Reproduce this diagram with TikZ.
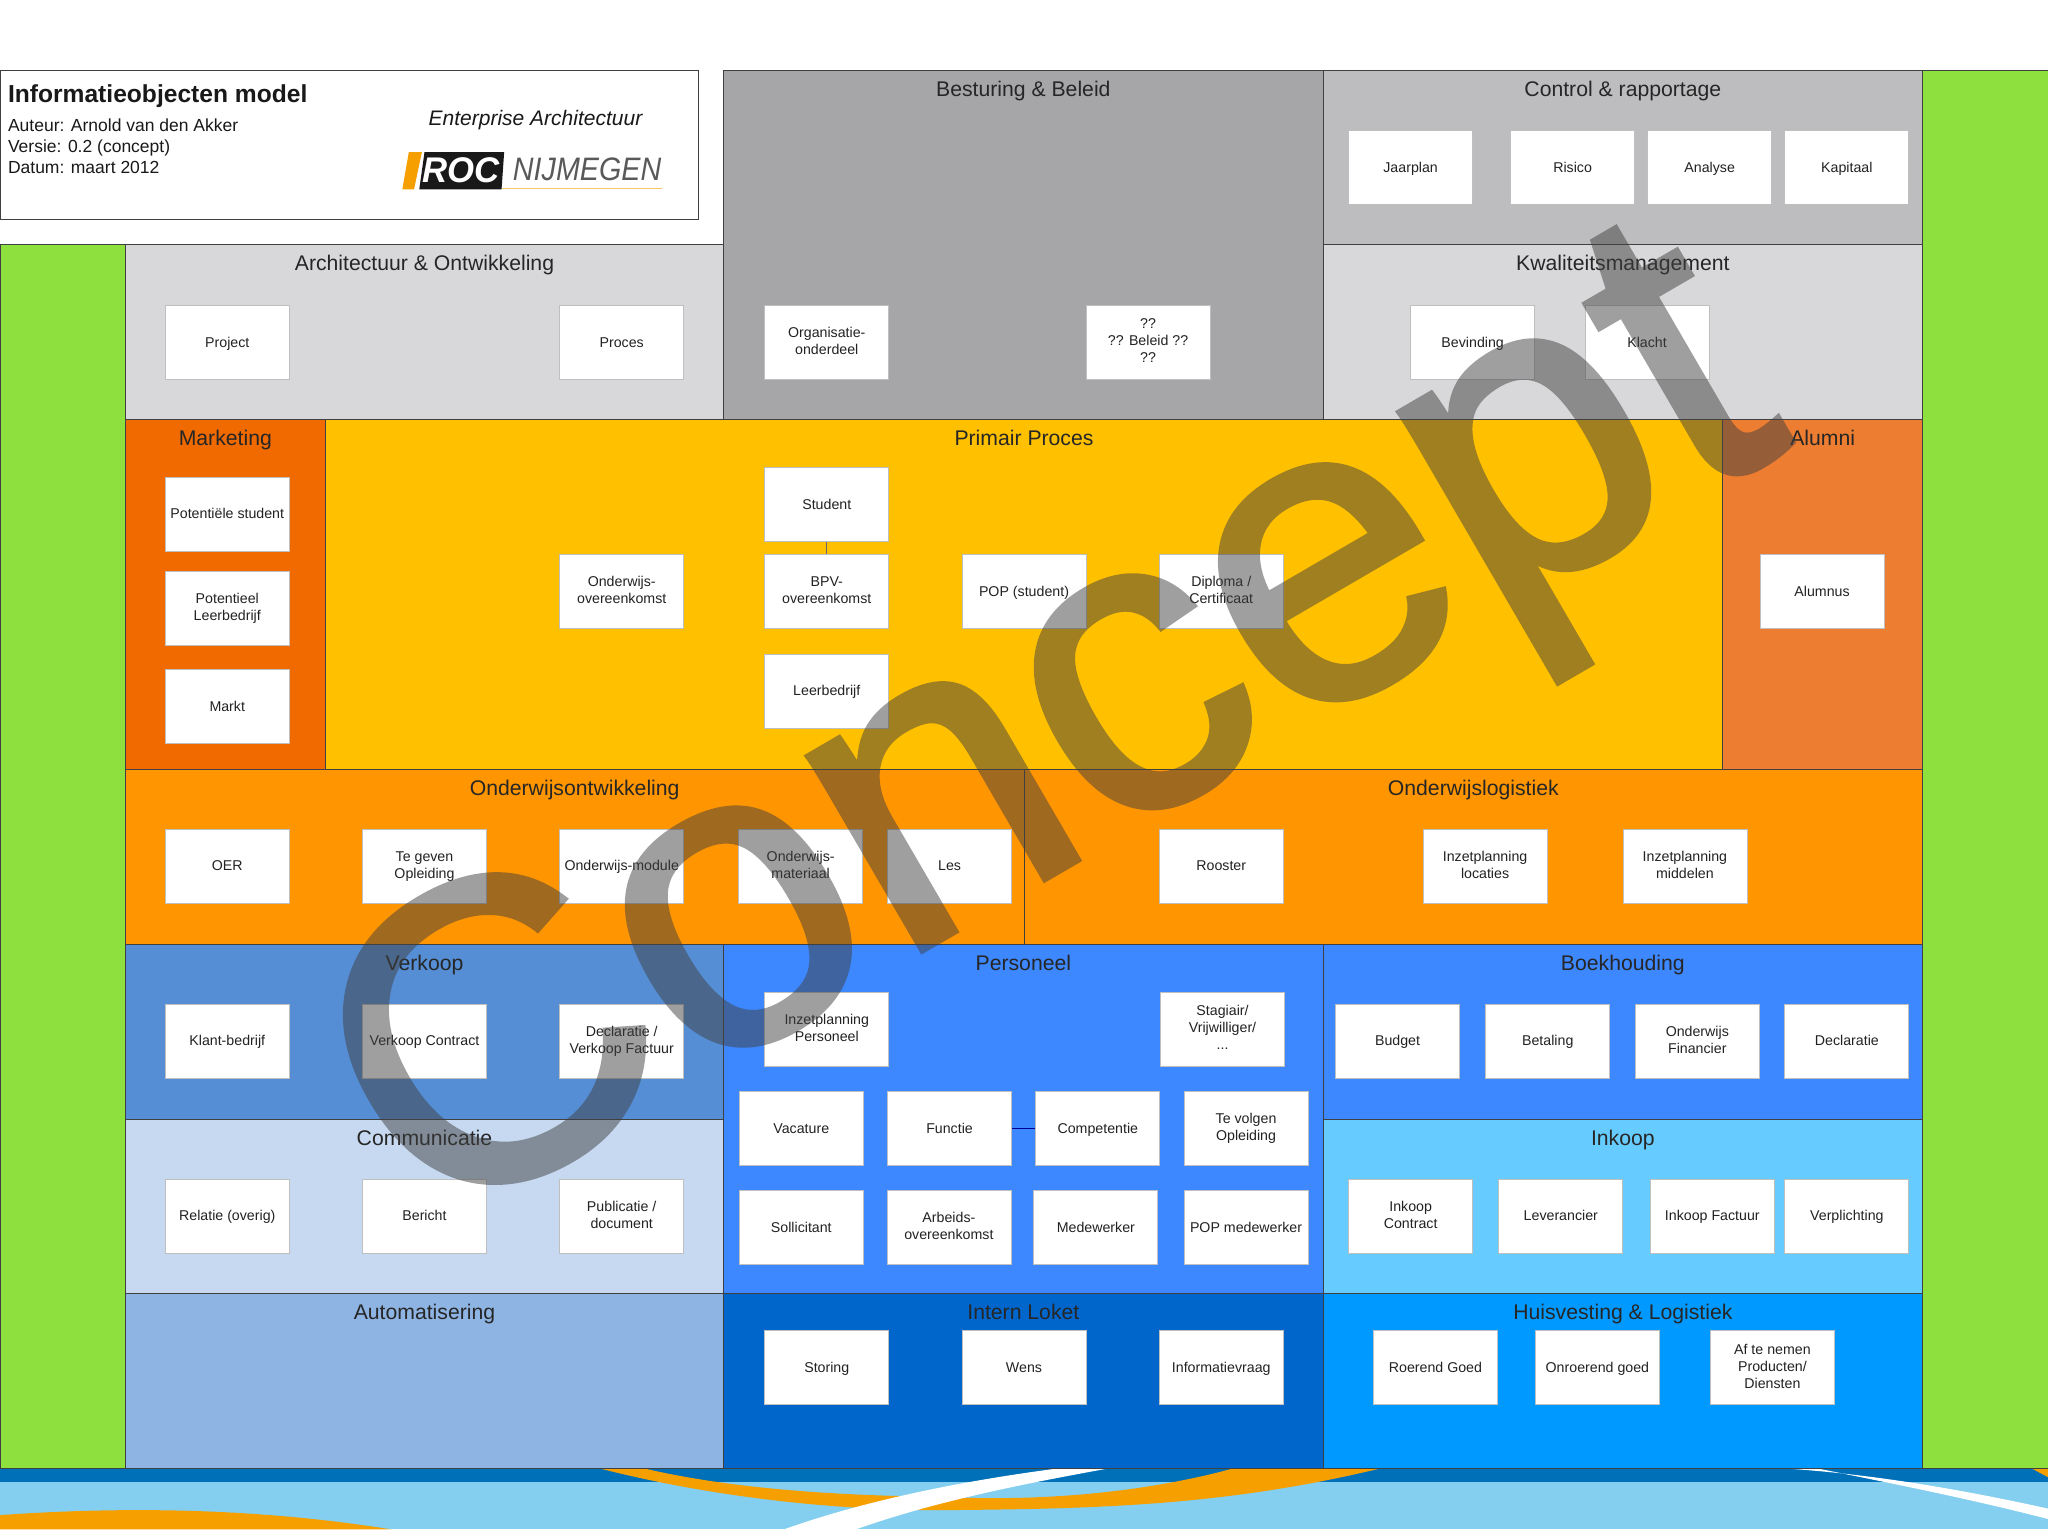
\documentclass[tikz,border=0pt]{standalone}
\usepackage{fontspec}
\setmainfont{Liberation Sans}
\newfontfamily\markfont[FakeBold=1.6]{Liberation Sans}
\definecolor{cgreen}{HTML}{8DE03E}
\definecolor{cbest}{HTML}{A6A5A8}
\definecolor{ccontrol}{HTML}{BDBDBF}
\definecolor{clight}{HTML}{D8D8DA}
\definecolor{cmark}{HTML}{F06A00}
\definecolor{cprim}{HTML}{FFC000}
\definecolor{calum}{HTML}{ED7D31}
\definecolor{conder}{HTML}{FF9500}
\definecolor{cverk}{HTML}{558ED5}
\definecolor{cpers}{HTML}{3D87FF}
\definecolor{ccomm}{HTML}{C6D9F1}
\definecolor{cink}{HTML}{66CCFF}
\definecolor{cauto}{HTML}{8EB4E3}
\definecolor{cint}{HTML}{0066CC}
\definecolor{chuis}{HTML}{0099FF}
\definecolor{cband}{HTML}{0070B8}
\definecolor{csky}{HTML}{84CFF0}
\definecolor{cswoosh}{HTML}{F5A000}
\definecolor{cink2}{HTML}{222222}
\tikzset{
  panelrect/.style={draw=black!75,line width=1pt},
  paneltitle/.style={anchor=base,font=\fontsize{21.2}{24}\selectfont,text=black!85,inner sep=0pt},
  itembox/.style={draw=black!25,line width=.8pt,fill=white,minimum width=124pt,minimum height=74pt,inner sep=1pt,align=center,text=cink2,font=\fontsize{14.2}{17}\selectfont,execute at begin node={\rule{0pt}{15pt}},execute at end node={\rule[-5.1pt]{0pt}{5.1pt}}},
  boxlabel/.style={inner sep=0pt,align=center,text=cink2,font=\fontsize{14.2}{17}\selectfont},
  link/.style={draw=black!60,line width=.8pt},
  headtext/.style={anchor=base west,inner sep=0pt,text=black!90},
}
\newcommand{\pnl}[7]{%
  \path[panelrect,fill=#6] (#2,#3) rectangle (#4,#5);
  \node[paneltitle] (#1) at ({(#2+#4)/2},{#3+20}) {#7};}
\newcommand{\bx}[4]{\node[itembox] (#1) at (#2,#3) {#4};}
\newcommand{\bxm}[4]{\node[itembox] (#1) at (#2,#3) {};\node[boxlabel,yshift=-.3pt] (#1text) at (#1.center) {\strut#4\strut};}
\begin{document}
\begin{tikzpicture}[x=1.30612pt,y=-1.30612pt]
\path[use as bounding box,fill=white] (0,0) rectangle (1568,1176);
% bottom band
\fill[csky] (0,1124) rectangle (1568,1171);
\fill[cband] (0,1124) rectangle (1568,1134.5);
\fill[cswoosh] (458,1124) .. controls (540,1145) and (640,1158) .. (740,1156) .. controls (860,1155) and (950,1150) .. (1058,1124) -- (945,1124) .. controls (880,1142) and (800,1150) .. (720,1146) .. controls (640,1145) and (560,1140) .. (492,1124) -- cycle;
\fill[white] (812,1124) -- (850,1124) .. controls (790,1135) and (720,1148) .. (655,1171) -- (600,1171) .. controls (670,1146) and (750,1132) .. (812,1124) -- cycle;
\fill[white] (1362,1124) -- (1390,1124) .. controls (1450,1136) and (1510,1148) .. (1568,1163) -- (1568,1155) .. controls (1500,1140) and (1430,1128) .. (1362,1124) -- cycle;
\fill[cswoosh] (0,1171) -- (0,1160) .. controls (100,1153) and (200,1155) .. (300,1171) -- cycle;
\fill[cswoosh] (1555,1124) -- (1568,1124) -- (1568,1131) -- cycle;
% panels
\path[panelrect,fill=cgreen] (0,187) rectangle (96,1124);
\path[panelrect,fill=cgreen] (1472,54) rectangle (1568,1124);
\pnl{besturing}{554}{54}{1013}{321}{cbest}{Besturing \& Beleid}
\pnl{control}{1013}{54}{1472}{187}{ccontrol}{Control \& rapportage}
\pnl{kwaliteit}{1013}{187}{1472}{321}{clight}{Kwaliteitsmanagement}
\pnl{architectuur}{96}{187}{554}{321}{clight}{Architectuur \& Ontwikkeling}
\pnl{marketing}{96}{321}{249}{589}{cmark}{Marketing}
\pnl{primair}{249}{321}{1319}{589}{cprim}{Primair Proces}
\pnl{alumni}{1319}{321}{1472}{589}{calum}{Alumni}
\pnl{ontw}{96}{589}{784}{723}{conder}{Onderwijsontwikkeling}
\pnl{logistiek}{784}{589}{1472}{723}{conder}{Onderwijslogistiek}
\pnl{verkoop}{96}{723}{554}{857}{cverk}{Verkoop}
\pnl{personeel}{554}{723}{1013}{990}{cpers}{Personeel}
\pnl{boekhouding}{1013}{723}{1472}{857}{cpers}{Boekhouding}
\pnl{communicatie}{96}{857}{554}{990}{ccomm}{Communicatie}
\pnl{inkoop}{1013}{857}{1472}{990}{cink}{Inkoop}
\pnl{automatisering}{96}{990}{554}{1124}{cauto}{Automatisering}
\pnl{internloket}{554}{990}{1013}{1124}{cint}{Intern Loket}
\pnl{huisvesting}{1013}{990}{1472}{1124}{chuis}{Huisvesting \& Logistiek}
% title block
\path[panelrect,fill=white] (0,54) rectangle (535,168);
\node[headtext,font=\bfseries\fontsize{24.6}{26}\selectfont] (title) at (6,78.5) {Informatieobjecten model};
\node[headtext,font=\fontsize{17.5}{20}\selectfont] (auteur) at (6,101) {Auteur: Arnold van den Akker};
\node[headtext,font=\fontsize{17.5}{20}\selectfont] (versie) at (6,117) {Versie: 0.2 (concept)};
\node[headtext,font=\fontsize{17.5}{20}\selectfont] (datum) at (6,133) {Datum: maart 2012};
\node[inner sep=0pt,font=\itshape\fontsize{21}{24}\selectfont,text=black!90] (ea) at (410,92) {Enterprise Architectuur};
% logo
\fill[cswoosh] (313,116.5) -- (323,116.5) -- (317,145) -- (308,145) -- cycle;
\fill[black!90] (325,116.5) -- (386,116.5) -- (384,145) -- (321,145) -- cycle;
\node[inner sep=0pt,font=\bfseries\itshape\fontsize{31}{31}\selectfont,text=white] (roc) at (353,130.5) {\scalebox{1.12}[1.15]{ROC}};
\node[inner sep=0pt,font=\itshape\fontsize{29}{31}\selectfont,text=black!65] (nijmegen) at (449.5,130) {\scalebox{.99}[1.12]{NIJMEGEN}};
\fill[cswoosh!60] (384,143.8) rectangle (507,145);
% boxes
\bx{jaarplan}{1080}{128}{Jaarplan}
\bx{risico}{1204}{128}{Risico}
\bx{analyse}{1309}{128}{Analyse}
\bx{kapitaal}{1414}{128}{Kapitaal}
\bx{bevinding}{1127.5}{262}{Bevinding}
\bx{klacht}{1261}{262}{Klacht}
\bxm{orgdeel}{633}{262}{Organisatie-\\onderdeel}
\bxm{beleid}{879}{262}{??\\?? Beleid ??\\??}
\bx{project}{174}{262}{Project}
\bx{proces}{476}{262}{Proces}
\bx{potstudent}{174}{393.5}{Potentiële student}
\bxm{potleer}{174}{466}{Potentieel\\Leerbedrijf}
\bx{markt}{174}{541}{Markt}
\bx{student}{633}{386}{Student}
\bxm{bpv}{633}{453}{BPV-\\overeenkomst}
\bx{leerbedrijf}{633}{529}{Leerbedrijf}
\bxm{owovk}{476}{453}{Onderwijs-\\overeenkomst}
\bx{popstudent}{784}{453}{POP (student)}
\bxm{diploma}{935}{453}{Diploma /\\Certificaat}
\bx{alumnus}{1395}{453}{Alumnus}
\bx{oer}{174}{663}{OER}
\bxm{tegeven}{325}{663}{Te geven\\Opleiding}
\bx{module}{476}{663}{Onderwijs-module}
\bxm{materiaal}{613}{663}{Onderwijs-\\materiaal}
\bx{les}{727}{663}{Les}
\bx{rooster}{935}{663}{Rooster}
\bxm{locaties}{1137}{663}{Inzetplanning\\locaties}
\bxm{middelen}{1290}{663}{Inzetplanning\\middelen}
\bx{klant}{174}{797}{Klant-bedrijf}
\bx{vcontract}{325}{797}{Verkoop Contract}
\bxm{vfactuur}{476}{797}{Declaratie /\\Verkoop Factuur}
\bxm{inzetpers}{633}{788}{Inzetplanning\\Personeel}
\bxm{stagiair}{936}{788}{Stagiair/\\Vrijwilliger/\\...}
\bx{vacature}{613.5}{864}{Vacature}
\bx{functie}{727}{864}{Functie}
\bx{competentie}{840.5}{864}{Competentie}
\bxm{tevolgen}{954}{864}{Te volgen\\Opleiding}
\bx{sollicitant}{613.5}{940}{Sollicitant}
\bxm{arbeids}{726.5}{940}{Arbeids-\\overeenkomst}
\bx{medewerker}{839}{940}{Medewerker}
\bx{popmw}{954}{940}{POP medewerker}
\bx{budget}{1070}{797}{Budget}
\bx{betaling}{1185}{797}{Betaling}
\bxm{financier}{1299.5}{797}{Onderwijs\\Financier}
\bx{declaratie}{1414}{797}{Declaratie}
\bx{relatie}{174}{931}{Relatie (overig)}
\bx{bericht}{325}{931}{Bericht}
\bxm{publicatie}{476}{931}{Publicatie /\\document}
\bxm{icontract}{1080}{931}{Inkoop\\Contract}
\bx{leverancier}{1195}{931}{Leverancier}
\bx{ifactuur}{1311}{931}{Inkoop Factuur}
\bx{verplichting}{1414}{931}{Verplichting}
\bx{storing}{633}{1047}{Storing}
\bx{wens}{784}{1047}{Wens}
\bx{infovraag}{935}{1047}{Informatievraag}
\bx{roerend}{1099}{1047}{Roerend Goed}
\bx{onroerend}{1223}{1047}{Onroerend goed}
\bxm{afnemen}{1357}{1047}{Af te nemen\\Producten/\\Diensten}
\draw[link] (student) -- (bpv);
\draw[link,draw=blue!60!black] (functie) -- (competentie);
% watermark
\begin{scope}[transparency group,opacity=.5]
\node[rotate=30.2,inner sep=0pt,text=black!75,font=\markfont\fontsize{425}{425}\selectfont] (concept) at (811,574) {Concept};
\end{scope}
\end{tikzpicture}
\end{document}
